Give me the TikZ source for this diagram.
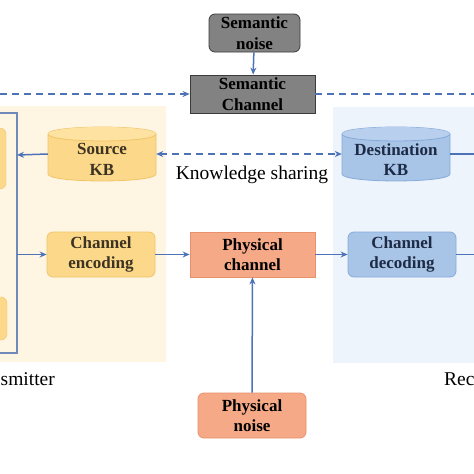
\documentclass[tikz,border=0pt]{standalone}
\usepackage{fontspec}
\setmainfont{Liberation Serif}
\usetikzlibrary{arrows.meta}
\definecolor{conn}{HTML}{4D72B8}
\definecolor{frameblue}{HTML}{6F8AB8}
\definecolor{yfill}{HTML}{FCD98A}
\definecolor{ytop}{HTML}{FDE2A2}
\definecolor{ydraw}{HTML}{F0C469}
\definecolor{ytext}{HTML}{3D3322}
\definecolor{bfill}{HTML}{A8C5E8}
\definecolor{btop}{HTML}{B8D0EE}
\definecolor{bdraw}{HTML}{86AADA}
\definecolor{btext}{HTML}{1E2B45}
\definecolor{sfill}{HTML}{F5A987}
\definecolor{sdraw}{HTML}{E8916C}
\definecolor{gfill}{HTML}{828282}
\definecolor{gdraw}{HTML}{3C3C3C}
\definecolor{ybg}{HTML}{FEF6E3}
\definecolor{bbg}{HTML}{EEF4FB}
\tikzset{
  lbl/.style={font=\bfseries\fontsize{17}{20.5}\selectfont, align=center, inner sep=0pt},
  box/.style={lbl, line width=0.8pt},
  ybox/.style={box, rounded corners=6pt, fill=yfill, draw=ydraw, text=ytext},
  bbox/.style={box, rounded corners=6pt, fill=bfill, draw=bdraw, text=btext},
  sbox/.style={box, fill=sfill, draw=sdraw, text=black},
  gbox/.style={box, fill=gfill, draw=gdraw, text=black},
  anchorbox/.style={inner sep=0pt, minimum width=108pt, minimum height=54pt},
  conn/.style={draw=conn, line width=1.5pt, -{Stealth[length=7pt,width=6pt]}},
  plain/.style={draw=conn, line width=1.5pt},
  dconn/.style={draw=conn, line width=1.5pt, dash pattern=on 7pt off 5pt},
  big/.style={font=\fontsize{19.5}{22}\selectfont, inner sep=0pt}
}
\begin{document}
\begin{tikzpicture}[x=1pt,y=-1pt]
\useasboundingbox (0,0) rectangle (474,474);
\fill[white] (0,0) rectangle (474,474);
% backgrounds
\fill[ybg] (-5,106) rectangle (166,362);
\fill[bbg] (333,107) rectangle (480,363);
% left partial boxes
\filldraw[fill=yfill, draw=ydraw, rounded corners=6pt] (-30,128) rectangle (6,189);
\filldraw[fill=yfill, draw=ydraw, rounded corners=6pt] (-30,297) rectangle (7,340);
% left frame
\draw[frameblue, line width=1.5pt] (-10,113) rectangle (17,353);
\coordinate (lfA) at (17,155);
\coordinate (lfB) at (17,254.5);

% semantic part
\node[gbox, rounded corners=6pt, minimum width=91pt, minimum height=38pt] (snoise) at (254.5,33) {Semantic\\noise};
\node[gbox, minimum width=125pt, minimum height=38pt] (schan) at (252.5,94) {Semantic\\Channel};
\draw[conn] (snoise) -- (schan);
\coordinate (dl) at (0,94);
\coordinate (dr) at (474,94);
\draw[dconn, -{Stealth[length=7pt,width=6pt]}] (dl) -- (schan.west);
\draw[dconn] (schan.east) -- (dr);

% Source KB cylinder
\filldraw[fill=yfill, draw=ydraw, line width=0.8pt] (48,134) -- (48,174) .. controls (48,183.3) and (156,183.3) .. (156,174) -- (156,134) .. controls (156,124.7) and (48,124.7) .. (48,134) -- cycle;
\fill[ytop] (102,134) ellipse [x radius=54, y radius=7];
\draw[ydraw, line width=0.8pt] (48,134) .. controls (48,143.3) and (156,143.3) .. (156,134);
\node[anchorbox] (skb) at (102,154) {};
\node[lbl, text=ytext] at (102,159.5) {Source\\KB};

% Destination KB cylinder
\filldraw[fill=bfill, draw=bdraw, line width=0.8pt] (342,134) -- (342,174) .. controls (342,183.3) and (450,183.3) .. (450,174) -- (450,134) .. controls (450,124.7) and (342,124.7) .. (342,134) -- cycle;
\fill[btop] (396,134) ellipse [x radius=54, y radius=7];
\draw[bdraw, line width=0.8pt] (342,134) .. controls (342,143.3) and (450,143.3) .. (450,134);
\node[anchorbox] (dkb) at (396,154) {};
\node[lbl, text=btext] at (396,159.5) {Destination\\KB};

\draw[conn] (skb.west) -- (lfA);
\draw[dconn, {Stealth[length=7pt,width=6pt]}-{Stealth[length=7pt,width=6pt]}] (skb.east) -- (dkb.west);
\node[big] (ks) at (252,175) {Knowledge sharing};
\coordinate (r1) at (474,154);
\draw[plain] (dkb.east) -- (r1);

% channel row
\node[ybox, minimum width=108pt, minimum height=45pt] (cenc) at (101,254.5) {Channel\\encoding};
\node[sbox, minimum width=125pt, minimum height=45pt] (pchan) at (252.5,254.5) {Physical\\channel};
\node[bbox, minimum width=108pt, minimum height=45pt] (cdec) at (402,254.5) {Channel\\decoding};
\draw[conn] (lfB) -- (cenc.west);
\draw[conn] (cenc) -- (pchan);
\draw[conn] (pchan) -- (cdec);
\coordinate (r2) at (474,254.5);
\draw[plain] (cdec.east) -- (r2);

\node[sbox, rounded corners=6pt, minimum width=108pt, minimum height=45pt] (pnoise) at (252,415.5) {Physical\\noise};
\draw[conn] (pnoise) -- (pchan);

% labels (as visible at the picture's edges)
\node[big, anchor=west] (tx) at (0.5,379) {smitter};
\node[big, anchor=west] (rx) at (444,379) {Rec};
\end{tikzpicture}
\end{document}
